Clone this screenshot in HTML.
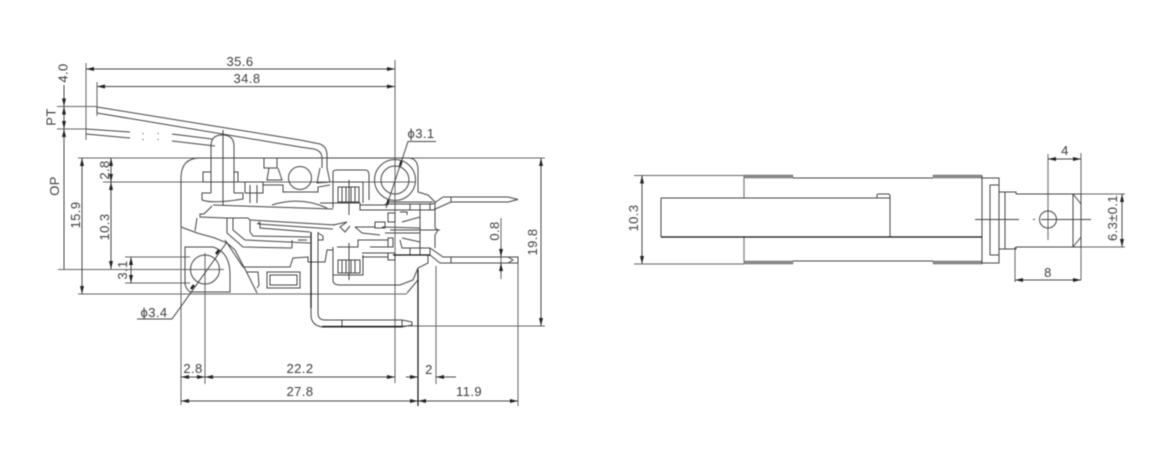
<!DOCTYPE html>
<html><head><meta charset="utf-8"><style>
html,body{margin:0;padding:0;background:#fff;width:1163px;height:454px;overflow:hidden}
svg{display:block;filter:blur(.4px)}
text{font-family:"Liberation Sans",sans-serif;font-size:13px;letter-spacing:.4px;fill:#3c3c3c;text-anchor:middle}
.l{fill:none;stroke:#444;stroke-width:1}
.d{fill:none;stroke:#333;stroke-width:1}
.k{fill:none;stroke:#111;stroke-width:1.2}
.g{fill:none;stroke:#666;stroke-width:1}
.b{fill:none;stroke:#222;stroke-width:2.4}
</style></head><body>
<svg width="1163" height="454" viewBox="0 0 1163 454" xmlns="http://www.w3.org/2000/svg">
<defs>
<marker id="a" markerUnits="userSpaceOnUse" markerWidth="9" markerHeight="5" refX="8" refY="2" orient="auto-start-reverse"><path d="M0 0L8 2L0 4Z" fill="#222"/></marker>
</defs>

<!-- extension lines -->
<g class="g">
<path d="M86 63V140M97 82V116M395 60V383M436 266V384M518 263V406M181 225V405M205 253V384"/>
<path d="M57 106.500H97M57 129H86M78 158H545M103 182H415M58 269.500H224M125 257H190M125 283H190M78 294H407M402 326H545"/>
<path d="M501 218V279"/>
</g>

<!-- dimension lines -->
<g class="l">
<path d="M86 69H395" marker-start="url(#a)" marker-end="url(#a)"/>
<path d="M97 86.500H395" marker-start="url(#a)" marker-end="url(#a)"/>
<path d="M64 85V106.500" marker-end="url(#a)"/>
<path d="M64 106.500V129" marker-start="url(#a)" marker-end="url(#a)"/>
<path d="M64 129V269" marker-start="url(#a)"/>
<path d="M82 158V294" marker-start="url(#a)" marker-end="url(#a)"/>
<path d="M111 158V182" marker-start="url(#a)" marker-end="url(#a)"/>
<path d="M111 182V269" marker-start="url(#a)" marker-end="url(#a)"/>
<path d="M131 257V283" marker-start="url(#a)" marker-end="url(#a)"/>
<path d="M181 377H205" marker-start="url(#a)" marker-end="url(#a)"/>
<path d="M205 377H395" marker-start="url(#a)" marker-end="url(#a)"/>
<path d="M181 401H418" marker-start="url(#a)" marker-end="url(#a)"/>
<path d="M418 401H518" marker-start="url(#a)" marker-end="url(#a)"/>
<path d="M406 377H418" marker-end="url(#a)"/>
<path d="M456 377H436" marker-end="url(#a)"/>
<path d="M541 158V326" marker-start="url(#a)" marker-end="url(#a)"/>
<path d="M501 247V257" marker-end="url(#a)"/>
<path d="M501 273V263" marker-end="url(#a)"/>
<path d="M436 141.500H408L386 208"/>
<path d="M137 319H172L227 242"/>
</g>
<path class="b" d="M401.500 161L400 166M388.500 200L387 205M219 250L216 254M194 285L191 289"/>

<!-- lever -->
<g class="l">
<path d="M97 107V113M97 107L300 140L320 144Q327 147 327 155V168M97 113L300 147L314 149Q322 151 322 158V168"/>
<path d="M86 129L130 132M86 134L130 138M172 134L212 139M172 141L215 146"/>
<path d="M143 133v1M143 139v1M158 133v1M158 139v1"/>
<path d="M211 193V146Q211 135 222 135Q234 135 234 146V193M223 130V205"/>
<path d="M203 172H211V182H203ZM234 172H238V182H234Z"/>
<path d="M211 193H202V200Q212 204 243 199V193H234"/>
<path d="M213 205L333 209M204 214L200 214V217L225 218H248L250 220L335 225M204 214L212 206"/>
</g>

<!-- body -->
<g class="l">
<path d="M181 227V178Q181 158 200 158H380"/>
<path d="M181 227L197 233L215 238L227 243L235 250L247 273L257 293M197 218L195 231"/>
<path d="M185 283V247H213Q230 252 230 275V292H190Q185 288 185 283Z"/>
<circle cx="205" cy="269.500" r="14.500"/>
<path d="M267 272H300V288H267ZM270 275H297V285H270Z"/>
<path d="M247 272H258L259 285L257 288"/>
<!-- leaf springs -->
<path d="M250 220V232L253 236L310 237M260 222V228L310 232M258 224L333 229M257 224L260 222"/>
<path d="M233 218V230L245 240L310 243M227 218V233L243 247L292 248M292 240V248M298 240H307"/>
<path d="M225 240L243 267H290L293 258L308 257V262H325L327 250H333M318 233L323 236V240H318"/>
<path d="M264 158V168H277V158M269 168L267 180H282L278 168"/>
<circle cx="300" cy="178" r="11.500"/>
<path d="M204 182H245V193M245 182H263V193H245M250 185V203M257 185V203M263 185H283V192H318V187L330 185M320 168L317 183L330 182L327 168"/>
<path d="M272 205Q300 196 327 208"/>
<!-- upper box -->
<path d="M333 208V172Q333 170 338 170H365Q369 170 369 175V200M333 182H363V203M338 187H359V202H338ZM342 187V202M346 187V202M351 187V202M355 187V202M349 180V215M320 203H360V210H385"/>
<!-- lower box -->
<path d="M333 247V280Q333 285 340 285H400L413 280L418 268M337 247H358V240H388V245M338 260H360V273H338ZM342 260V273M346 260V273M351 260V273M355 260V273M349 243V280M333 275H363V255M362 253H388M362 257H388M370 247H388"/>
<circle cx="395" cy="180" r="20.500"/>
<circle cx="395" cy="180" r="14"/>
<path d="M380 158H408Q418 158 418 170V192L428 195L435 202V228L438 230L435 235V248M428 255V263L418 268V280L407 293"/>
<!-- contact mechanism -->
<path d="M333 225L347 222L340 227L345 232L350 226M355 227L362 233L380 235M355 227H375M382 227L420 228M385 233H420M390 230H440"/>
<path d="M388 213H395V222H388ZM375 222H385V228H375ZM388 238H393V247H388ZM388 253H395V260H388Z"/>
<path d="M402 222L420 217V242L402 238M400 212H407V215M400 240L402 248H407M420 204V255M410 204V210M430 203V210M410 248V255M430 248V255"/>
<path d="M360 205H388M388 202H433"/>
</g>

<!-- terminals -->
<g class="l">
<path d="M385 204H433L443 197H508L518 199.500L508 202H451L433 210H385M451 197V202"/>
<path d="M402 248H430L443 257H518V263H451L440 263L430 255M451 257V263M508 257L513 260L508 263"/>
<path d="M318 232V313Q318 320 325 320H402L412 322V325L402 327H322Q311 325 311 315V232M342 320V326M402 320V327"/>
</g>
<path class="k" d="M418 270V406M311 232V308M393 255H430M322 326.500H402"/>

<!-- right view -->
<g class="g">
<path d="M634 175.500H744M634 264H744M1048 154V240M1081 153V280M1015 247V282M1081 194H1125M1081 247H1125"/>
<path d="M744 176V198M744 237V264"/>
</g>
<path d="M744 175H793V178H744ZM933 175H982V178H933ZM744 261H793V264H744ZM933 261H982V264H933Z" fill="#888" stroke="#777" stroke-width=".5"/>
<g class="l">
<path d="M642 175.500V264" marker-start="url(#a)" marker-end="url(#a)"/>
<path d="M661 198H890V237M661 198V237M877 198V195Q877 194 879 194H888Q890 194 890 196V198"/>
<path d="M793 178H933M793 261H933M982 176V264M982 178H999V263H982M990 185H999M990 255H999M990 185V255"/>
<path d="M999 192H1005V249H999M1005 192H1016V194M1005 249H1016V247"/>
<path d="M1016 194H1081V247H1016M1073 194V247M1073 194L1081 204M1073 247L1081 237"/>
<circle cx="1048" cy="219.500" r="8.500"/>
<path d="M975 219.500H1019M1033 219.500H1035M1041 219.500H1091"/>
<path d="M1048 159H1081" marker-start="url(#a)" marker-end="url(#a)"/>
<path d="M1015 280H1081" marker-start="url(#a)" marker-end="url(#a)"/>
<path d="M1122 194V247" marker-start="url(#a)" marker-end="url(#a)"/>
</g>
<path class="k" d="M661 237H982"/>

<!-- text -->
<text x="240" y="66">35.6</text>
<text x="247" y="83">34.8</text>
<text x="421" y="138">ϕ3.1</text>
<text x="154" y="317">ϕ3.4</text>
<text x="193" y="373">2.8</text>
<text x="300" y="373">22.2</text>
<text x="300" y="396">27.8</text>
<text x="429" y="374">2</text>
<text x="469" y="396">11.9</text>
<text x="1065" y="155">4</text>
<text x="1048" y="277">8</text>
<text transform="translate(67.500 73) rotate(-90)">4.0</text>
<text transform="translate(55.500 117) rotate(-90)">PT</text>
<text transform="translate(59 186) rotate(-90)">OP</text>
<text transform="translate(80 215) rotate(-90)">15.9</text>
<text transform="translate(109 170) rotate(-90)">2.8</text>
<text transform="translate(109 227) rotate(-90)">10.3</text>
<text transform="translate(127 270) rotate(-90)">3.1</text>
<text transform="translate(499 231) rotate(-90)">0.8</text>
<text transform="translate(537 242) rotate(-90)">19.8</text>
<text transform="translate(638 218) rotate(-90)">10.3</text>
<text transform="translate(1117 218) rotate(-90)">6.3±0.1</text>
</svg>
</body></html>
